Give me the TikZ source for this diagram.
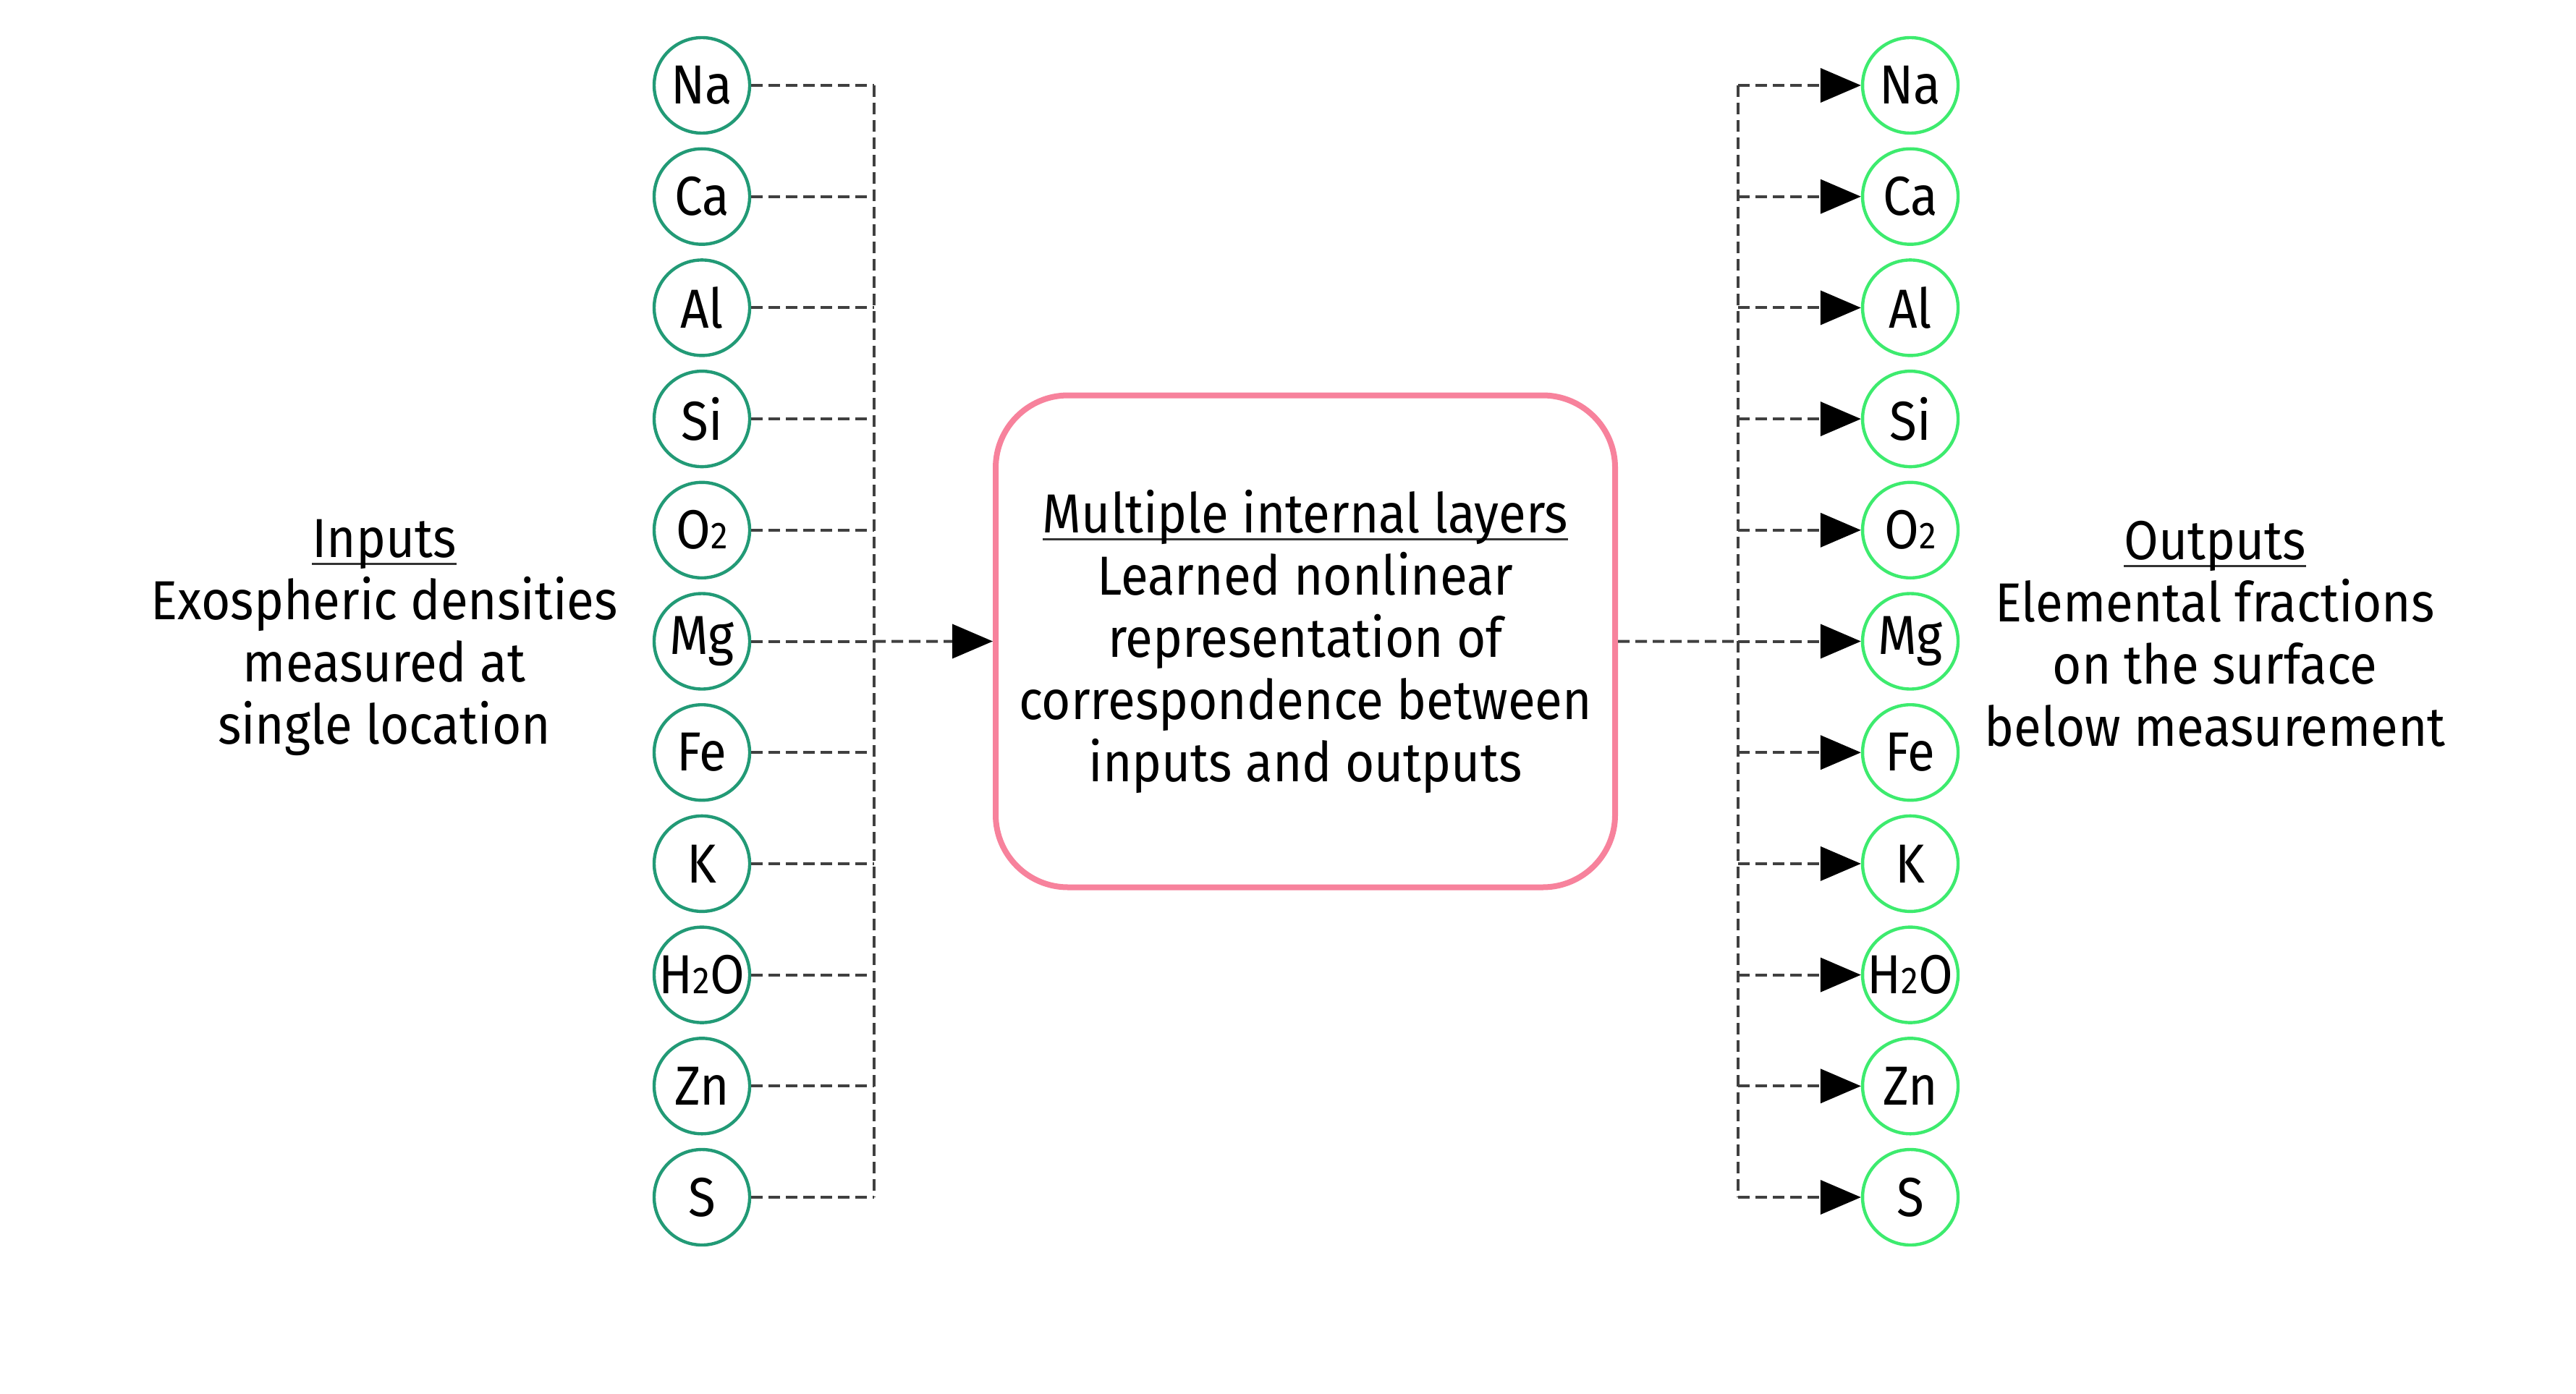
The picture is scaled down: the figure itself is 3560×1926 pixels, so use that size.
\documentclass[tikz,border=0pt]{standalone}
\usepackage{fontspec}
\setmainfont[FakeStretch=0.91]{Fira Sans}
\usetikzlibrary{arrows.meta}
\definecolor{inclr}{HTML}{229A76}
\definecolor{outclr}{HTML}{3DEB6E}
\definecolor{boxclr}{HTML}{F7829C}
\definecolor{lineclr}{HTML}{404040}
\definecolor{ulclr}{HTML}{333333}
\newcommand\chemsub[1]{{\fontsize{13}{13}\selectfont #1}}
\newsavebox\myulbox
\newcommand\myul[1]{\leavevmode\sbox\myulbox{#1}\rlap{\textcolor{ulclr}{\rule[-2.8pt]{\wd\myulbox}{0.9pt}}}\usebox\myulbox}
\begin{document}
\begin{tikzpicture}[x=0.25pt,y=-0.25pt,
  inel/.style={circle, draw=inclr, line width=1.1pt, minimum size=33pt, inner sep=0pt, font=\fontsize{19}{22}\selectfont},
  outel/.style={inel, draw=outclr},
  conn/.style={draw=lineclr, line width=1pt, dash pattern=on 4pt off 2pt},
  arr/.style={-{Triangle[length=14pt, width=11.75pt, color=black]}, shorten >=0pt},
  mainbox/.style={draw=boxclr, line width=2pt, rounded corners=25pt, minimum width=214pt, minimum height=170pt, align=center, font=\fontsize{19}{21.5}\selectfont},
  desc/.style={align=center, font=\fontsize{19}{21.5}\selectfont}]
\useasboundingbox[fill=white] (0,0) rectangle (3560,1926);
\node[mainbox] (box) at (1804,886.5) {\myul{Multiple internal layers}\\Learned nonlinear\\representation of\\correspondence between\\inputs and outputs};
\foreach \n/\t [count=\i from 0] in {Na/Na, Ca/Ca, Al/Al, Si/Si, O/{O\chemsub{2}}, Mg/Mg, Fe/Fe, K/K, HO/{H\chemsub{2}O}, Zn/Zn, S/S}{
  \pgfmathsetmacro\yy{118+\i*153.7}
  \node[inel] (in\n) at (970,\yy) {\t};
  \node[outel] (out\n) at (2640,\yy) {\t};
  \coordinate (lb\n) at (1208,\yy);
  \coordinate (rb\n) at (2402,\yy);
  \draw[conn] (in\n) -- (lb\n);
  \draw[conn, arr] (rb\n) -- (out\n);
}
\draw[conn] (lbNa) -- (lbS);
\draw[conn] (rbNa) -- (rbS);
\draw[conn, arr] (lbMg) -- (box);
\draw[conn] (box) -- (rbMg);
\node[desc] (inputs) at (531,881) {\myul{Inputs}\\Exospheric densities\\measured at\\single location};
\node[desc] (outputs) at (3061,876) {\myul{Outputs}\\Elemental fractions\\on the surface\\below measurement};
\end{tikzpicture}
\end{document}
